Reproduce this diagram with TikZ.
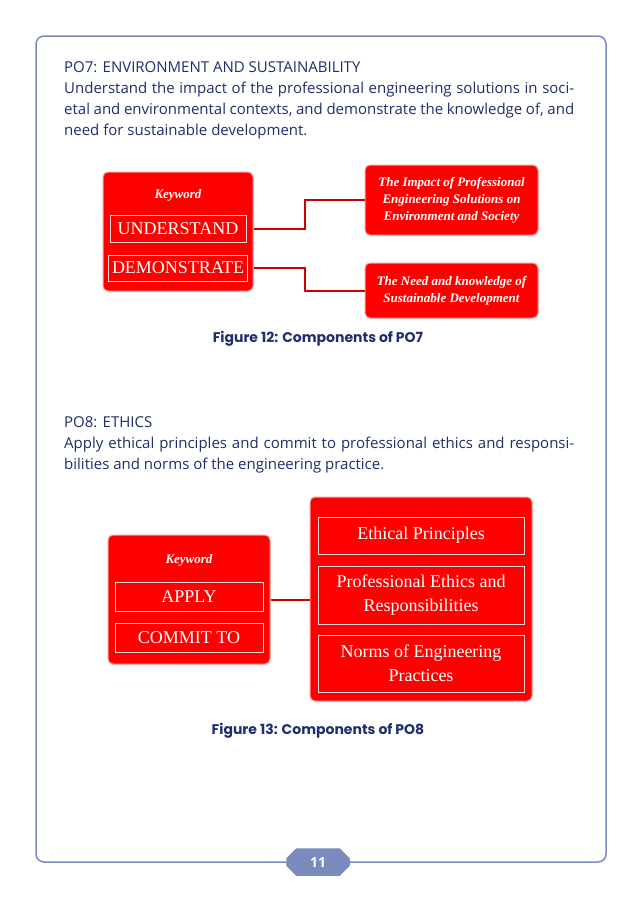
\documentclass[tikz,border=0pt]{standalone}
\usepackage{fontspec}
\setmainfont{Open Sans}
\newfontfamily\tms{Liberation Serif}
\newfontfamily\pop{Poppins}
\usetikzlibrary{shapes.misc}
\definecolor{frame}{HTML}{7C8BBE}
\definecolor{navy}{HTML}{1F2F6B}
\definecolor{bred}{HTML}{FF0000}
\definecolor{lred}{HTML}{CC0000}
\begin{document}
\begin{tikzpicture}[x=1pt,y=-1pt,
 redbox/.style={fill=bred,draw=red!40,line width=1pt,rounded corners=5pt},
 wbox/.style={draw=white!85!red,line width=0.8pt},
 conn/.style={draw=lred,line width=2pt},
 btxt/.style={text=navy,font=\fontsize{15}{21}\selectfont,inner sep=0pt,anchor=north west,text width=510pt,align=justify},
 figcap/.style={text=navy,font=\pop\bfseries\fontsize{14}{17}\selectfont},
 kw/.style={text=white,font=\tms\bfseries\itshape\fontsize{13}{15}\selectfont},
 wt/.style={text=white,font=\tms\fontsize{18}{20}\selectfont},
 it/.style={text=white,font=\tms\bfseries\itshape\fontsize{13}{17}\selectfont,align=center}]
\useasboundingbox (0,0) rectangle (638,902);
\fill[white] (0,0) rectangle (638,902);
\draw[frame,line width=1.5pt,rounded corners=8pt] (36,36) rectangle (606,862);
\node[draw=frame,fill=frame,line width=1.5pt,chamfered rectangle,chamfered rectangle xsep=6pt,minimum width=62pt,minimum height=26pt,text=white,font=\bfseries\fontsize{14}{16}\selectfont] (pg) at (318,862) {11};
% PO7
\node[btxt] (t7) at (64,61) {PO7: ENVIRONMENT AND SUSTAINABILITY\\Understand the impact of the professional engineering solutions in societal and environmental contexts, and demonstrate the knowledge of, and need for sustainable development.};
\node[redbox,minimum width=150pt,minimum height=119pt] (k7) at (178,231.5) {};
\node[kw] (kw7) at (178,195) {Keyword};
\node[wbox,minimum width=136pt,minimum height=27pt,wt] (u) at (178,228.5) {UNDERSTAND};
\node[wbox,minimum width=136pt,minimum height=26pt,wt] (d) at (178,268) {DEMONSTRATE};
\node[redbox,minimum width=173pt,minimum height=70pt,it] (r1) at (451.5,200) {The Impact of Professional\\Engineering Solutions on\\Environment and Society};
\node[redbox,minimum width=173pt,minimum height=55pt,it] (r2) at (451.5,290.5) {The Need and knowledge of\\Sustainable Development};
\draw[conn] (u.east -| k7.east) -- (305,228.5) |- (r1.west);
\draw[conn] (d.east -| k7.east) -- (305,268) |- (r2.west);
\node[figcap] (c7) at (318,339) {Figure 12: Components of PO7};
% PO8
\node[btxt] (t8) at (64,416) {PO8: ETHICS\\Apply ethical principles and commit to professional ethics and responsibilities and norms of the engineering practice.};
\node[redbox,minimum width=162pt,minimum height=129pt] (k8) at (189,599.5) {};
\node[kw] (kw8) at (189,560) {Keyword};
\node[wbox,minimum width=148pt,minimum height=29pt,wt] (a) at (189,596.5) {APPLY};
\node[wbox,minimum width=148pt,minimum height=29pt,wt] (c) at (189,637.5) {COMMIT TO};
\node[redbox,minimum width=222pt,minimum height=204pt] (rb) at (421,599) {};
\node[wbox,minimum width=206pt,minimum height=37pt,wt] (e1) at (421,535.5) {Ethical Principles};
\node[wbox,minimum width=206pt,minimum height=58pt,wt,align=center,font=\tms\fontsize{18}{24}\selectfont] (e2) at (421,595) {Professional Ethics and\\Responsibilities};
\node[wbox,minimum width=206pt,minimum height=57pt,wt,align=center,font=\tms\fontsize{18}{24}\selectfont] (e3) at (421,663.5) {Norms of Engineering\\Practices};
\draw[conn] (k8.east |- 0,600) -- (rb.west |- 0,600);
\node[figcap] (c8) at (318,731) {Figure 13: Components of PO8};
\end{tikzpicture}
\end{document}
